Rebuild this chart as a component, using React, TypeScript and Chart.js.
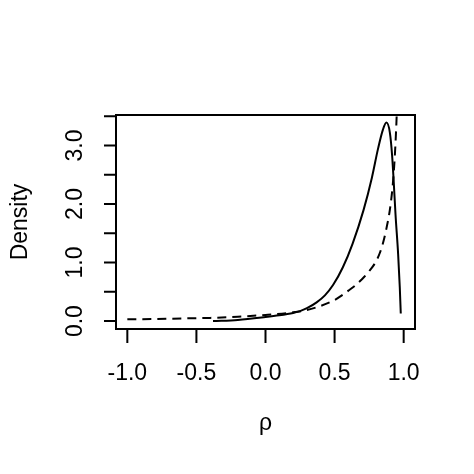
import React, { useEffect, useRef } from "react";
import { Chart, registerables } from "chart.js";

Chart.register(...registerables);

// Solid curve (posterior density)
const rhoSolid = [-0.38, -0.2, 0.0, 0.1, 0.2, 0.25, 0.3, 0.37, 0.43, 0.49, 0.56, 0.63, 0.71, 0.77, 0.815, 0.85, 0.875, 0.9, 0.916, 0.928, 0.941, 0.96, 0.972, 0.979];
const densitySolid = [0.0, 0.02, 0.07, 0.1, 0.14, 0.17, 0.22, 0.32, 0.44, 0.62, 0.92, 1.32, 1.9, 2.45, 2.95, 3.27, 3.39, 3.22, 2.84, 2.38, 1.82, 1.14, 0.57, 0.13];

// Dashed curve (prior density)
const rhoDashed = [-1.0, -0.8, -0.6, -0.4, -0.2, 0.0, 0.2, 0.3, 0.4, 0.5, 0.55, 0.6, 0.65, 0.7, 0.75, 0.8, 0.83, 0.85, 0.875, 0.9, 0.92, 0.93, 0.94, 0.95, 0.96];
const densityDashed = [0.03, 0.035, 0.045, 0.055, 0.075, 0.105, 0.15, 0.19, 0.26, 0.36, 0.435, 0.52, 0.61, 0.72, 0.85, 1.02, 1.18, 1.33, 1.58, 1.9, 2.3, 2.6, 3.0, 3.55, 4.4];

const xTicks = [-1, -0.5, 0, 0.5, 1];
const xTickLabels = ["-1.0", "-0.5", "0.0", "0.5", "1.0"];
const yTicks = [0, 0.5, 1, 1.5, 2, 2.5, 3, 3.5];
const yLabelValues = [0, 1, 2, 3];
const yTickLabels = ["0.0", "1.0", "2.0", "3.0"];
const xTitle = "ρ";
const yTitle = "Density";

const FONT = "23px 'Liberation Sans', Arial, Helvetica, sans-serif";

const axesPlugin = {
  id: "rAxes",
  afterDraw(chart: any) {
    const ctx = chart.ctx as CanvasRenderingContext2D;
    const a = chart.chartArea;
    const xs = chart.scales.x;
    const ys = chart.scales.y;
    ctx.save();
    ctx.strokeStyle = "#000";
    ctx.lineWidth = 2;
    ctx.setLineDash([]);
    // box
    ctx.strokeRect(a.left, a.top, a.right - a.left, a.bottom - a.top);
    // ticks
    ctx.beginPath();
    xTicks.forEach((v) => {
      const px = xs.getPixelForValue(v);
      ctx.moveTo(px, a.bottom);
      ctx.lineTo(px, a.bottom + 14);
    });
    yTicks.forEach((v) => {
      const py = ys.getPixelForValue(v);
      ctx.moveTo(a.left, py);
      ctx.lineTo(a.left - 12, py);
    });
    ctx.stroke();
    ctx.fillStyle = "#000";
    ctx.font = FONT;
    ctx.textAlign = "center";
    ctx.textBaseline = "alphabetic";
    xTicks.forEach((v, i) => {
      ctx.fillText(xTickLabels[i], xs.getPixelForValue(v), 380);
    });
    ctx.fillText(xTitle, (a.left + a.right) / 2, 430);
    yLabelValues.forEach((v, i) => {
      ctx.save();
      ctx.translate(82, ys.getPixelForValue(v));
      ctx.rotate(-Math.PI / 2);
      ctx.fillText(yTickLabels[i], 0, 0);
      ctx.restore();
    });
    ctx.save();
    ctx.translate(26.5, (a.top + a.bottom) / 2);
    ctx.rotate(-Math.PI / 2);
    ctx.fillText(yTitle, 0, 0);
    ctx.restore();
    ctx.restore();
  },
};

export default function App() {
  const ref = useRef<HTMLCanvasElement | null>(null);
  useEffect(() => {
    document.body.style.margin = "0";
    document.body.style.background = "#fff";
    const canvas = ref.current!;
    const chart = new Chart(canvas, {
      type: "scatter",
      data: {
        datasets: [
          {
            data: rhoSolid.map((x, i) => ({ x, y: densitySolid[i] })),
            showLine: true,
            borderColor: "#000",
            borderWidth: 2,
            pointRadius: 0,
            cubicInterpolationMode: "monotone",
            fill: false,
          },
          {
            data: rhoDashed.map((x, i) => ({ x, y: densityDashed[i] })),
            showLine: true,
            borderColor: "#000",
            borderWidth: 2,
            borderDash: [9, 6],
            pointRadius: 0,
            cubicInterpolationMode: "monotone",
            fill: false,
          },
        ],
      },
      options: {
        animation: false,
        responsive: false,
        devicePixelRatio: 1,
        layout: { padding: { left: 116, top: 115, right: 59, bottom: 145 } },
        plugins: { legend: { display: false }, tooltip: { enabled: false } },
        scales: {
          x: { type: "linear", min: -1.082, max: 1.082, display: false },
          y: { type: "linear", min: -0.135, max: 3.52, display: false },
        },
      },
      plugins: [axesPlugin],
    } as any);
    return () => chart.destroy();
  }, []);
  return (
    <div style={{ position: "absolute", left: 0, top: 0, width: 474, height: 474, background: "#fff" }}>
      <canvas ref={ref} width={474} height={474} />
    </div>
  );
}
